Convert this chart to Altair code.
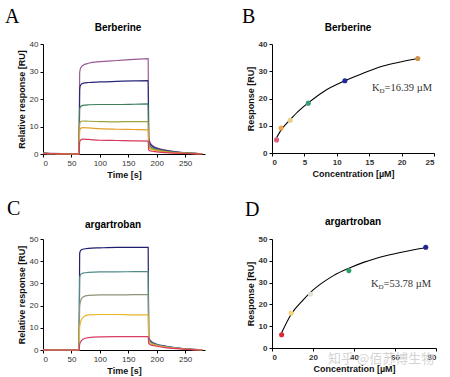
import altair as alt
import pandas as pd

# ---------------- Panel A: Berberine sensorgrams ----------------
time_a = [0, 20, 40, 62, 63.5, 64.5, 66, 70, 80, 100, 130, 160, 185, 186, 188, 192, 200, 215, 235, 260, 280]
a_names = ["22.5 µM", "11.25 µM", "5.6 µM", "2.8 µM", "1.4 µM", "0.7 µM"]
a_colors = ["#9b5a96", "#27287a", "#3d7d5e", "#9fa33a", "#e5a12a", "#d5395a"]
a_22 = [0.4, 0.2, 0.1, 0.0, 0.0, 29.5, 31.2, 32.2, 33.0, 33.6, 34.0, 34.4, 34.7, 6.0, 4.5, 3.2, 2.3, 1.4, 0.8, 0.3, 0.1]
a_11 = [0.3, 0.1, 0.1, 0.0, 0.0, 23.5, 25.0, 25.7, 26.0, 26.2, 26.4, 26.6, 26.7, 5.0, 3.8, 2.8, 2.0, 1.3, 0.7, 0.3, 0.1]
a_5 = [0.2, 0.1, 0.0, 0.0, 0.0, 16.5, 17.2, 17.7, 17.9, 18.0, 18.0, 18.1, 18.2, 4.0, 3.0, 2.3, 1.7, 1.1, 0.6, 0.3, 0.1]
a_2 = [0.2, 0.1, 0.0, 0.0, 0.0, 11.0, 11.7, 12.0, 11.9, 11.8, 11.7, 11.8, 11.8, 3.0, 2.4, 1.9, 1.4, 0.9, 0.5, 0.2, 0.1]
a_1 = [0.2, 0.1, 0.0, 0.0, 0.0, 8.5, 9.3, 9.6, 9.5, 9.2, 9.0, 8.9, 8.8, 2.5, 2.0, 1.6, 1.2, 0.8, 0.4, 0.2, 0.1]
a_07 = [0.1, 0.1, 0.0, 0.0, 0.0, 4.3, 5.0, 5.4, 5.3, 5.0, 4.9, 4.8, 4.7, 1.5, 1.2, 1.0, 0.8, 0.5, 0.3, 0.1, 0.0]
a_series = [a_22, a_11, a_5, a_2, a_1, a_07]

# ---------------- Panel B: Berberine binding ----------------
b_conc = [0.7, 1.4, 2.8, 5.6, 11.25, 22.5]
b_resp = [4.8, 9.2, 12.0, 18.3, 26.5, 34.7]
b_names = ["0.7", "1.4", "2.8", "5.6", "11.25", "22.5"]
b_colors = ["#e0607a", "#eea54a", "#e8cf8a", "#3a9a72", "#1f2a9c", "#d0904a"]
b_fit_x = [0.7, 1.4, 2.8, 4.0, 5.6, 8.0, 11.25, 14.0, 17.0, 20.0, 22.5]
b_fit_y = [5.6, 8.4, 12.2, 15.2, 18.4, 22.6, 26.5, 29.2, 31.8, 33.5, 34.7]

# ---------------- Panel C: argartroban sensorgrams ----------------
time_c = [0, 20, 40, 62, 63.5, 64.5, 66, 70, 80, 100, 130, 160, 185, 186, 188, 192, 200, 215, 235, 260, 280]
c_names = ["75 µM", "37.5 µM", "18.75 µM", "9.375 µM", "4.69 µM"]
c_colors = ["#1e1f6e", "#4f8c86", "#8c9478", "#e9b42a", "#d83d64"]
c_75 = [0.2, 0.1, 0.1, 0.0, 0.0, 43.5, 44.8, 45.4, 45.8, 46.0, 46.2, 46.2, 46.2, 6.0, 4.5, 3.5, 2.6, 1.8, 1.0, 0.4, 0.1]
c_37 = [0.2, 0.1, 0.0, 0.0, 0.0, 32.5, 34.0, 34.6, 35.0, 35.2, 35.2, 35.3, 35.3, 5.0, 4.0, 3.2, 2.4, 1.6, 0.9, 0.35, 0.1]
c_18 = [0.1, 0.1, 0.0, 0.0, 0.0, 19.5, 22.0, 23.8, 24.6, 24.8, 24.8, 24.9, 24.9, 4.5, 3.6, 2.9, 2.2, 1.4, 0.8, 0.3, 0.1]
c_9 = [0.1, 0.0, 0.0, 0.0, 0.0, 10.0, 12.5, 14.6, 15.8, 16.0, 16.0, 15.8, 15.8, 4.0, 3.2, 2.6, 2.0, 1.3, 0.7, 0.3, 0.1]
c_4 = [0.1, 0.0, 0.0, 0.0, 0.0, 2.5, 3.6, 4.8, 5.6, 5.9, 6.0, 6.0, 6.0, 3.0, 2.5, 2.1, 1.7, 1.1, 0.6, 0.2, 0.0]
c_series = [c_75, c_37, c_18, c_9, c_4]

# ---------------- Panel D: argartroban binding ----------------
d_conc = [4.69, 9.375, 18.75, 37.5, 75.0]
d_resp = [6.1, 16.0, 24.8, 35.5, 46.2]
d_names = ["4.69", "9.375", "18.75", "37.5", "75"]
d_colors = ["#e0283a", "#f2d27a", "#dde0d2", "#2f9e6e", "#23278f"]
d_fit_x = [4.69, 9.375, 15.0, 18.75, 25.0, 30.0, 37.5, 45.0, 55.0, 65.0, 75.0]
d_fit_y = [7.0, 15.5, 21.8, 25.5, 30.2, 33.2, 36.6, 39.4, 42.2, 44.3, 46.0]

SANS = "Liberation Sans"
SERIF = "Liberation Serif"


def sensor_df(times, names, series):
    rows = []
    for n, vals in zip(names, series):
        for t, v in zip(times, vals):
            rows.append({"t": t, "r": v, "s": n})
    return pd.DataFrame(rows)


def label(text, x, y, size, font=SANS, weight="normal", color="black", align="left"):
    return alt.Chart(pd.DataFrame({"k": [0]})).mark_text(
        text=text, font=font, fontSize=size, fontWeight=weight, color=color,
        align=align, baseline="alphabetic"
    ).encode(x=alt.value(x), y=alt.value(y))


def sensorgram(times, names, colors, series, ymax, yvals, title, letter, w, h,
               letter_pos, title_pos):
    df = sensor_df(times, names, series)
    lines = alt.Chart(df).mark_line(strokeWidth=1.2, interpolate="monotone").encode(
        x=alt.X("t:Q", scale=alt.Scale(domain=[0, 285], nice=False),
                axis=alt.Axis(values=[0, 50, 100, 150, 200, 250], title="Time [s]",
                              titlePadding=3)),
        y=alt.Y("r:Q", scale=alt.Scale(domain=[0, ymax], nice=False),
                axis=alt.Axis(values=yvals, title="Relative response [RU]", titlePadding=3)),
        color=alt.Color("s:N", scale=alt.Scale(domain=names, range=colors), legend=None),
        order=alt.Order("t:Q"),
    )
    return alt.layer(
        lines,
        label(letter, letter_pos[0], letter_pos[1], 20, font=SERIF),
        label(title, title_pos[0], title_pos[1], 10, weight="bold", align="center"),
    ).properties(width=w, height=h)


def binding(conc, resp, names, colors, fx, fy, xmax, xvals, ymax, yvals, title, letter,
            w, h, letter_pos, title_pos, kd_text, kd_pos, extra=None):
    pts = pd.DataFrame({"c": conc, "r": resp, "n": names})
    fit = pd.DataFrame({"c": fx, "r": fy})
    xenc = alt.X("c:Q", scale=alt.Scale(domain=[0, xmax], nice=False),
                 axis=alt.Axis(values=xvals, title="Concentration [µM]", titlePadding=3,
                               labelFontWeight="bold"))
    yenc = alt.Y("r:Q", scale=alt.Scale(domain=[0, ymax], nice=False),
                 axis=alt.Axis(values=yvals, title="Response [RU]", titlePadding=3,
                               labelFontWeight="bold"))
    line = alt.Chart(fit).mark_line(color="black", strokeWidth=1.1, interpolate="monotone").encode(
        x=xenc, y=yenc)
    dots = alt.Chart(pts).mark_circle(size=26, opacity=1).encode(
        x=xenc, y=yenc,
        color=alt.Color("n:N", scale=alt.Scale(domain=names, range=colors), legend=None))
    layers = [
        line, dots,
        label(letter, letter_pos[0], letter_pos[1], 20, font=SERIF),
        label(title, title_pos[0], title_pos[1], 10, weight="bold", align="center"),
        label("K", kd_pos[0], kd_pos[1], 10.5, font=SERIF, color="#333"),
        label("D", kd_pos[0] + 7.5, kd_pos[1] + 2, 7, font=SERIF, color="#333"),
        label(kd_text, kd_pos[0] + 12.5, kd_pos[1], 10.5, font=SERIF, color="#333"),
    ]
    if extra is not None:
        layers.append(extra)
    return alt.layer(*layers).properties(width=w, height=h)


panel_a = sensorgram(time_a, a_names, a_colors, a_series, 40, [0, 10, 20, 30, 40],
                     "Berberine", "A", 162, 110, (-38, -21), (75, -13))
panel_b = binding(b_conc, b_resp, b_names, b_colors, b_fit_x, b_fit_y, 25,
                  [0, 5, 10, 15, 20, 25], 40, [0, 10, 20, 30, 40], "Berberine", "B",
                  162, 109, (-30, -21), (76, -13), "=16.39 µM", (100, 47))
panel_c = sensorgram(time_c, c_names, c_colors, c_series, 50, [0, 10, 20, 30, 40, 50],
                     "argartroban", "C", 162, 111, (-36, -24), (70, -11))
watermark = label("知乎 @佰苏博生物", 56, 124, 13, font="Noto Sans CJK SC", color="#d4d4d4")
panel_d = binding(d_conc, d_resp, d_names, d_colors, d_fit_x, d_fit_y, 80,
                  [0, 20, 40, 60, 80], 50, [0, 10, 20, 30, 40, 50], "argartroban", "D",
                  164, 109, (-27, -23), (81, -14), "=53.78 µM", (99, 48), extra=watermark)

chart = alt.concat(
    panel_a, panel_b, panel_c, panel_d, columns=2,
    spacing={"row": 85, "column": 67}, bounds="flush",
).resolve_scale(color="independent").properties(
    autosize=alt.AutoSizeParams(type="none"),
    padding={"left": 43, "top": 44, "right": 407, "bottom": 333},
    background="white",
).configure_view(stroke=None).configure_axis(
    grid=False,
    domainColor="black",
    domainWidth=1,
    tickColor="black",
    tickSize=3,
    labelFont=SANS,
    labelFontSize=8,
    labelColor="#333",
    labelPadding=2,
    titleFont=SANS,
    titleFontSize=9,
    titleFontWeight="bold",
    titleColor="#111",
)

chart.save("out.html", embed_options={"renderer": "svg", "actions": False})
